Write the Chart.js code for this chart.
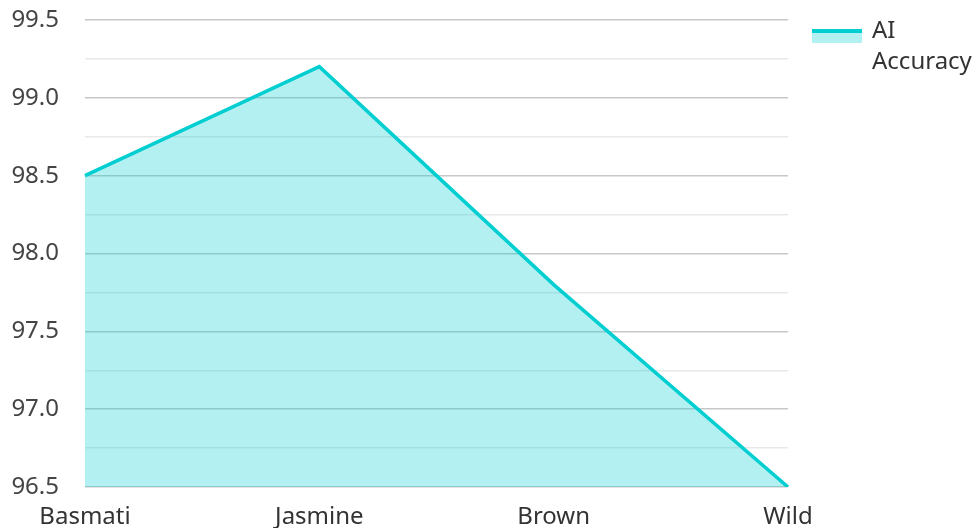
<!DOCTYPE html>
<html>
<head>
<meta charset="utf-8">
<script src="https://cdn.jsdelivr.net/npm/chart.js@4/dist/chart.umd.min.js"></script>
<style>
  html, body { margin: 0; padding: 0; background: #ffffff; }
  #wrap { width: 977px; height: 528px; position: relative; }
</style>
</head>
<body>
<div id="wrap"><canvas id="chart"></canvas></div>
<script>
// Rice varieties and model accuracy (%)
const categories = ['Basmati', 'Jasmine', 'Brown', 'Wild'];
const accuracy = [98.5, 99.2, 97.8, 96.5];
const seriesLabel = ['AI', 'Accuracy'];

const lineColor = '#00CED1';
const fillColor = 'rgba(0, 206, 209, 0.3)';

// Legend swatch: a thick line on top of a light filled strip,
// sitting slightly below the first text line
const swatch = document.createElement('canvas');
swatch.width = 50;
swatch.height = 24;
(function () {
  const c = swatch.getContext('2d');
  c.fillStyle = fillColor;
  c.fillRect(0, 10, 50, 14);
  c.fillStyle = lineColor;
  c.fillRect(0, 10, 50, 4);
})();

Chart.defaults.font.family = '"Noto Sans", "Open Sans", sans-serif';
Chart.defaults.font.size = 24;

const isMajor = (v) => Math.abs(v * 2 - Math.round(v * 2)) < 1e-6;

new Chart(document.getElementById('chart'), {
  type: 'line',
  data: {
    labels: categories,
    datasets: [{
      label: seriesLabel,
      data: accuracy,
      borderColor: lineColor,
      backgroundColor: fillColor,
      borderWidth: 3.5,
      fill: 'start',
      tension: 0,
      pointRadius: 0,
      pointHoverRadius: 0,
      pointStyle: swatch
    }]
  },
  options: {
    responsive: true,
    maintainAspectRatio: false,
    animation: false,
    layout: { padding: { top: 9, left: 10, right: 0, bottom: 0 } },
    plugins: {
      tooltip: { enabled: false },
      legend: {
        position: 'right',
        align: 'start',
        maxWidth: 173,
        labels: {
          color: '#333333',
          usePointStyle: true,
          pointStyleWidth: 46,
          boxHeight: 14,
          padding: 10,
          font: { size: 24, lineHeight: 1.3 }
        }
      }
    },
    scales: {
      x: {
        offset: false,
        grid: { display: false },
        border: { display: false },
        afterFit: (scale) => { scale.height = 41; },
        ticks: { color: '#333333', padding: 8, maxRotation: 0, font: { size: 24 } }
      },
      y: {
        min: 96.5,
        max: 99.5,
        border: { display: false },
        afterFit: (scale) => { scale.width = 75; },
        grid: {
          drawTicks: true,
          tickLength: 26,
          tickColor: 'rgba(0,0,0,0)',
          lineWidth: 1.5,
          color: (ctx) => {
            const v = ctx.tick ? ctx.tick.value : 0;
            return isMajor(v) ? 'rgba(0,0,0,0.22)' : 'rgba(0,0,0,0.09)';
          }
        },
        ticks: {
          stepSize: 0.25,
          autoSkip: false,
          color: '#444444',
          padding: 0,
          font: { size: 24, lineHeight: 1.667 },
          callback: (v) => (isMajor(v) ? Number(v).toFixed(1) : '')
        }
      },
      // empty spacer between the plot and the legend
      gap: {
        type: 'linear',
        position: 'right',
        display: true,
        grid: { display: false },
        border: { display: false },
        ticks: { display: false },
        afterFit: (scale) => { scale.width = 16; }
      }
    }
  }
});
</script>
</body>
</html>
